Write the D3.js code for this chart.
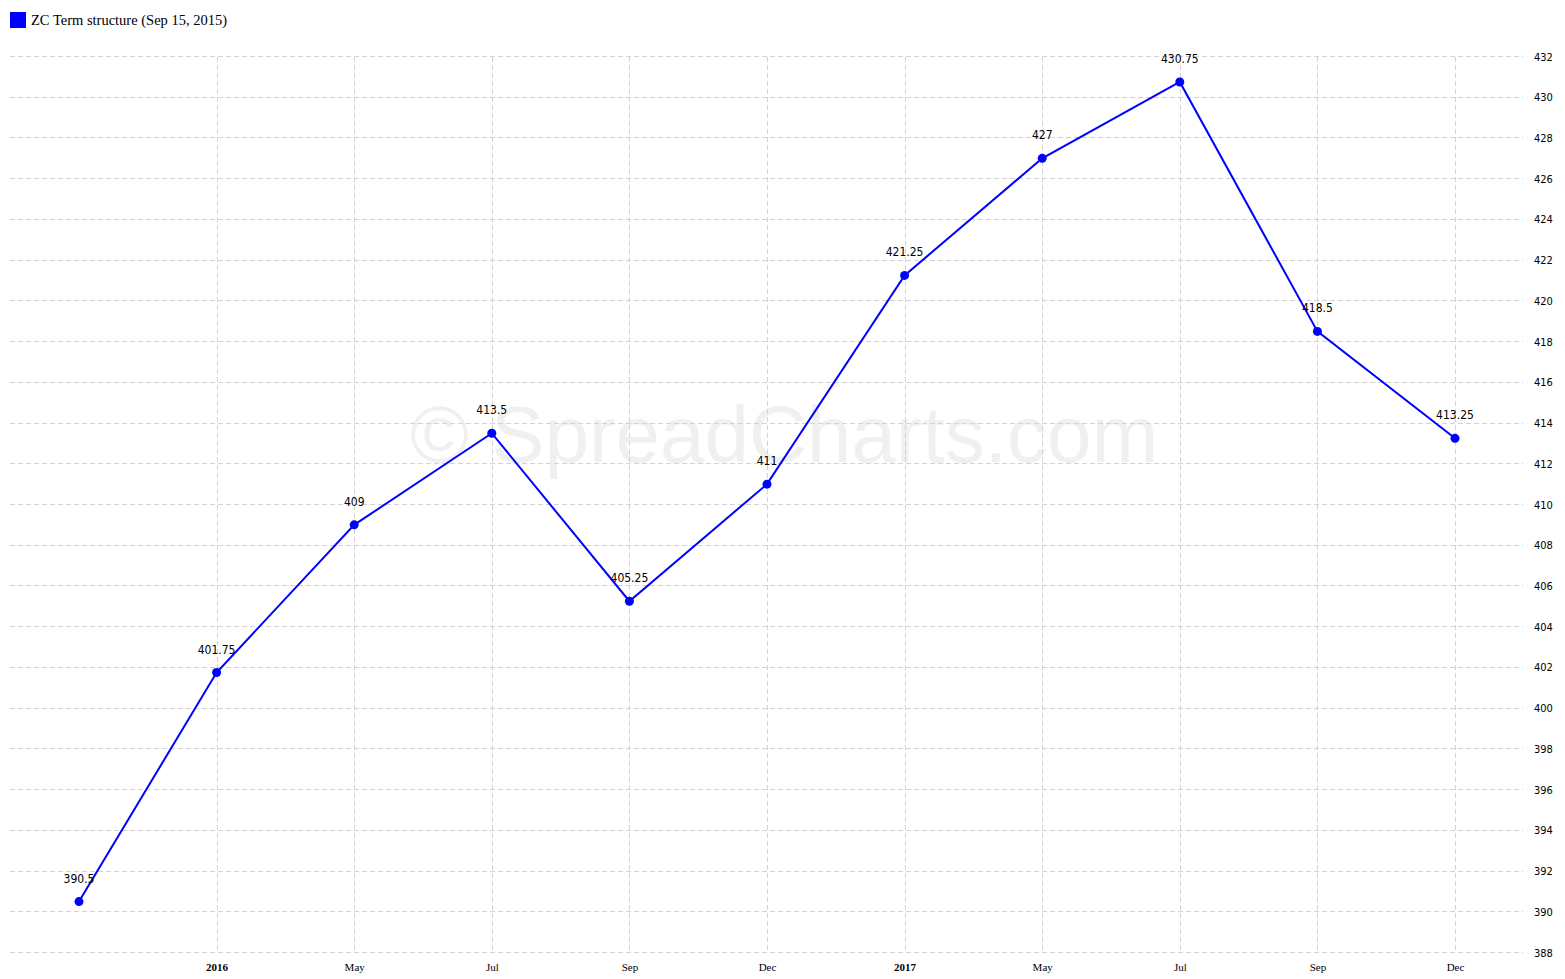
<!DOCTYPE html>
<html><head><meta charset="utf-8">
<script src="https://cdn.jsdelivr.net/npm/d3@7"></script>
<style>body{margin:0;background:#fff;}svg{display:block;}</style>
</head><body>
<svg id="c" width="1565" height="979"></svg>
<script>
const contracts = ["Dec 2015","Mar 2016","May 2016","Jul 2016","Sep 2016","Dec 2016","Mar 2017","May 2017","Jul 2017","Sep 2017","Dec 2017"];
const tickLabels = ["","2016","May","Jul","Sep","Dec","2017","May","Jul","Sep","Dec"];
const boldTicks = [false,true,false,false,false,false,true,false,false,false,false];
const prices = [390.5,401.75,409,413.5,405.25,411,421.25,427,430.75,418.5,413.25];
const labels = ["390.5","401.75","409","413.5","405.25","411","421.25","427","430.75","418.5","413.25"];
const yTicks = d3.range(388, 433, 2);

const svg = d3.select("#c");
const x = d3.scalePoint().domain(d3.range(contracts.length)).range([79, 1455]);
const y = d3.scaleLinear().domain([388, 432]).range([952.5, 56.5]);
const left = 10, right = 1523;

// watermark
svg.append("text").attr("x", 784).attr("y", 462).attr("text-anchor","middle")
  .attr("font-family","'Liberation Sans', Arial, sans-serif").attr("font-size", 80)
  .attr("fill","#f0f0f0").text("© SpreadCharts.com");

// horizontal grid
svg.append("g").selectAll("line").data(yTicks).join("line")
  .attr("x1", left).attr("x2", right).attr("y1", d=>Math.floor(y(d))+0.5).attr("y2", d=>Math.floor(y(d))+0.5)
  .attr("stroke","#d3d3d3").attr("stroke-dasharray","5,3");
// vertical grid
svg.append("g").selectAll("line").data(d3.range(1, contracts.length)).join("line")
  .attr("x1", d=>Math.round(x(d))+0.5).attr("x2", d=>Math.round(x(d))+0.5)
  .attr("y1", 57).attr("y2", 952)
  .attr("stroke","#d3d3d3").attr("stroke-dasharray","5,3");

// y axis labels
const yAxis = d3.axisRight(y).tickValues(yTicks).tickSize(0).tickPadding(0).tickFormat(d3.format("d"));
const ga = svg.append("g").attr("transform", `translate(1534,0)`).call(yAxis);
ga.select(".domain").remove();
ga.selectAll("text").attr("font-family","'DejaVu Sans Condensed','DejaVu Sans',sans-serif").attr("font-size",11).attr("fill","#000");

// x axis labels
const xAxis = d3.axisBottom(x).tickSize(0).tickPadding(0).tickFormat(i=>tickLabels[i]);
const gx = svg.append("g").attr("transform", `translate(0,963)`).call(xAxis);
gx.select(".domain").remove();
gx.selectAll("text").attr("font-family","'Liberation Serif','Times New Roman',serif").attr("font-size",11)
  .attr("fill","#000").attr("font-weight", i=>boldTicks[i]?"bold":"normal");

// line
const line = d3.line().x((d,i)=>x(i)).y(d=>y(d));
svg.append("path").datum(prices).attr("d", line).attr("fill","none").attr("stroke","#0000ff").attr("stroke-width",2);
svg.append("g").selectAll("circle").data(prices).join("circle")
  .attr("cx",(d,i)=>x(i)).attr("cy", d=>y(d)).attr("r",4.5).attr("fill","#0000ff");
svg.append("g").selectAll("text").data(prices).join("text")
  .attr("x",(d,i)=>x(i)).attr("y", d=>y(d)-19).attr("text-anchor","middle")
  .attr("font-family","'DejaVu Sans Condensed','DejaVu Sans',sans-serif").attr("font-size",12).attr("fill","#000")
  .text((d,i)=>labels[i]);

// legend
svg.append("rect").attr("x",10).attr("y",12).attr("width",16).attr("height",16).attr("fill","#0000ff");
svg.append("text").attr("x",31).attr("y",24.5).attr("font-family","'Liberation Serif','Times New Roman',serif")
  .attr("font-size",14.5).attr("fill","#000").text("ZC Term structure (Sep 15, 2015)");
</script>
</body></html>
